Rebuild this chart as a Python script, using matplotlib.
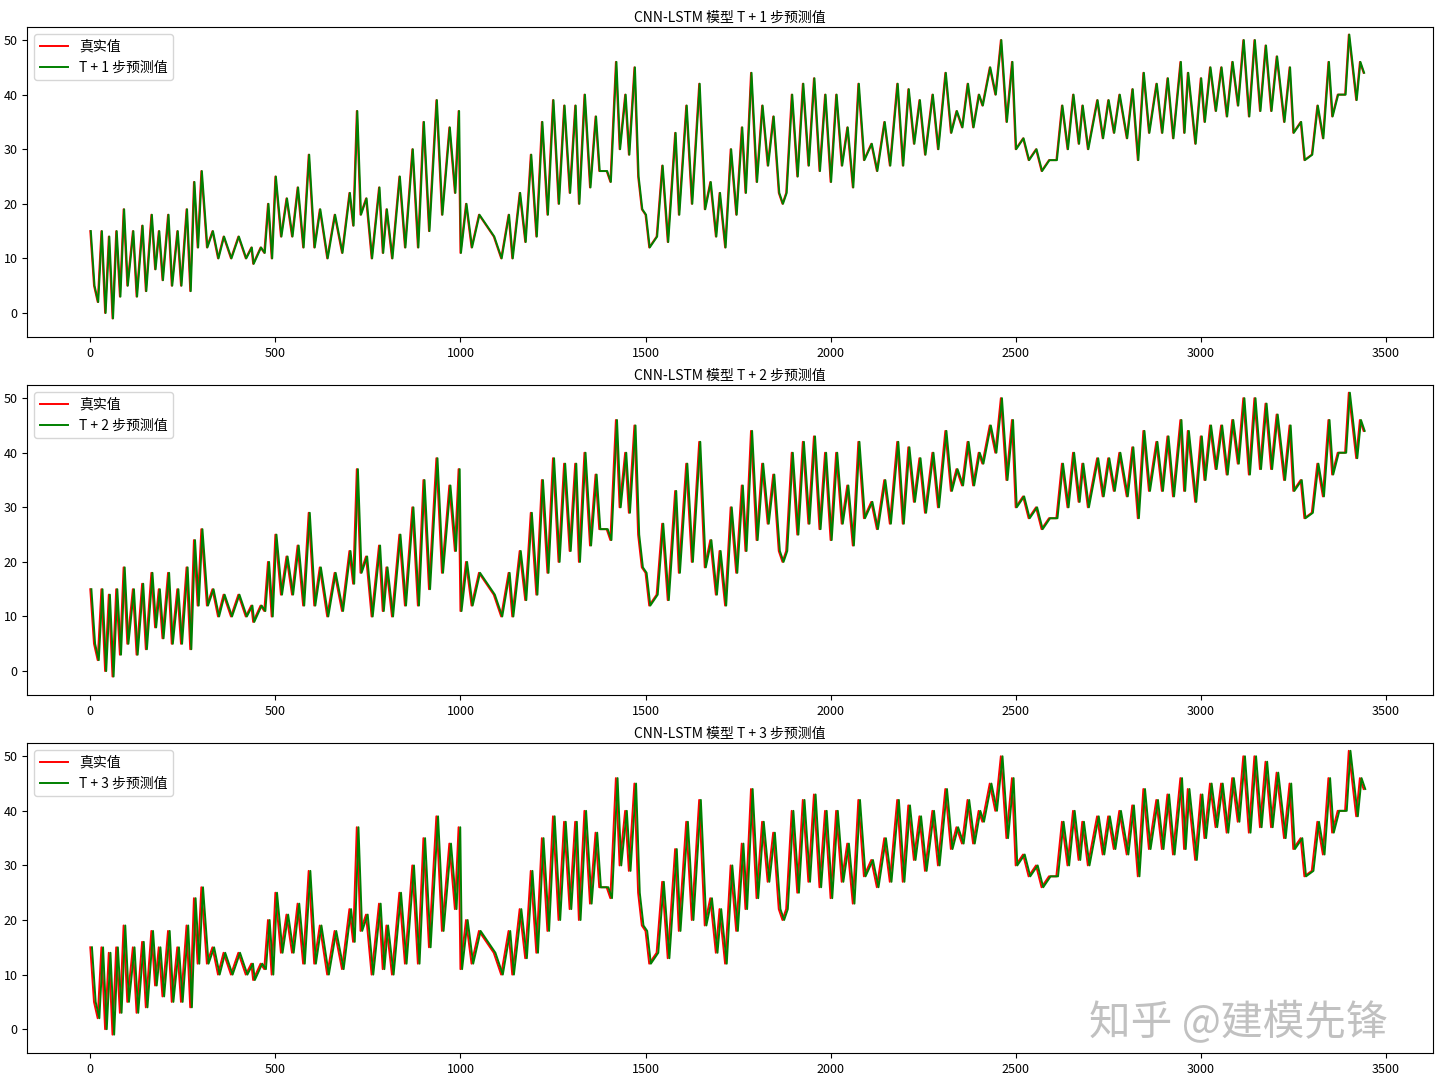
import matplotlib
matplotlib.use("Agg")
import matplotlib.pyplot as plt
from matplotlib import font_manager

cjk = None
for f in font_manager.fontManager.ttflist:
    if "CJK" in f.name:
        cjk = f.name
        if "SC" in f.name:
            break
if cjk is None:
    import glob
    for p in glob.glob("/usr/share/fonts/**/*CJK*", recursive=True):
        font_manager.fontManager.addfont(p)
    for f in font_manager.fontManager.ttflist:
        if "CJK" in f.name:
            cjk = f.name
            break
plt.rcParams["font.family"] = [cjk or "Noto Sans CJK SC", "DejaVu Sans"]
plt.rcParams["axes.unicode_minus"] = False

pts = [(0,15),(10,5),(20,2),(30,15),(40,0),(50,14),(60,-1),(70,15),(80,3),(90,19),(100,5),(115,15),(125,3),
(140,16),(150,4),(165,18),(175,8),(185,15),(195,6),(210,18),(220,5),(235,15),(245,5),(260,19),(270,4),(280,24),
(290,12),(300,26),(315,12),(330,15),(345,10),(360,14),(380,10),(400,14),(420,10),(435,12),(440,9),(460,12),(470,11),
(480,20),(490,10),(500,25),(515,14),(530,21),(545,14),(560,23),(575,12),(590,29),(605,12),(620,19),(640,10),(660,18),
(680,11),(700,22),(710,16),(720,37),(730,18),(745,21),(760,10),(780,23),(790,11),(800,19),(815,10),(835,25),(850,12),
(870,30),(885,12),(900,35),(915,15),(935,39),(950,18),(970,34),(985,22),(995,37),(1000,11),(1015,20),(1030,12),
(1050,18),(1070,16),(1090,14),(1110,10),(1130,18),(1140,10),(1160,22),(1175,13),(1190,29),(1205,14),(1220,35),
(1235,18),(1250,39),(1265,20),(1280,38),(1295,22),(1310,38),(1320,20),(1335,40),(1350,23),(1365,36),(1375,26),
(1395,26),(1405,24),(1420,46),(1430,30),(1445,40),(1455,29),(1470,45),(1480,25),(1490,19),(1500,18),(1510,12),
(1530,14),(1545,27),(1560,13),(1580,33),(1590,18),(1610,38),(1625,20),(1645,42),(1660,19),(1675,24),(1690,14),
(1700,22),(1715,12),(1730,30),(1745,18),(1760,34),(1770,22),(1785,44),(1800,24),(1815,38),(1830,27),(1845,36),
(1860,22),(1870,20),(1880,22),(1895,40),(1910,25),(1925,42),(1940,27),(1955,43),(1970,26),(1985,40),(2000,24),
(2015,40),(2030,27),(2045,34),(2060,23),(2075,42),(2090,28),(2110,31),(2125,26),(2145,35),(2160,27),(2180,42),
(2195,27),(2210,41),(2225,31),(2240,39),(2255,29),(2275,40),(2290,30),(2310,44),(2325,33),(2340,37),(2355,34),
(2370,42),(2385,34),(2400,40),(2410,38),(2430,45),(2445,40),(2460,50),(2475,35),(2490,46),(2500,30),(2520,32),
(2535,28),(2555,30),(2570,26),(2590,28),(2610,28),(2625,38),(2640,30),(2655,40),(2670,31),(2680,38),(2695,30),
(2720,39),(2735,32),(2750,39),(2765,33),(2780,40),(2800,32),(2815,41),(2830,28),(2845,44),(2860,33),(2880,42),
(2895,33),(2910,43),(2925,32),(2945,46),(2955,33),(2965,44),(2985,31),(3000,43),(3010,35),(3025,45),(3040,37),
(3055,45),(3070,36),(3085,46),(3100,38),(3115,50),(3130,36),(3145,50),(3160,37),(3175,49),(3190,37),(3205,47),
(3225,35),(3240,45),(3250,33),(3270,35),(3280,28),(3300,29),(3315,38),(3330,32),(3345,46),(3355,36),(3370,40),
(3390,40),(3400,51),(3410,45),(3420,39),(3430,46),(3440,44)]
x_idx = [p[0] for p in pts]
true_vals = [p[1] for p in pts]
steps = [1, 2, 3]
lags = [1.5, 3, 4.5]

fig, axes = plt.subplots(3, 1, figsize=(14.4, 10.78), dpi=100)
fig.subplots_adjust(left=0.019, right=0.995, top=0.975, bottom=0.023, hspace=0.155)
for ax, s, lag in zip(axes, steps, lags):
    ax.plot(x_idx, true_vals, color="red", lw=1.4, label="真实值")
    ax.plot([v + lag for v in x_idx], true_vals, color="green", lw=1.4, label=f"T + {s} 步预测值")
    ax.set_title(f"CNN-LSTM 模型 T + {s} 步预测值", fontsize=10, pad=4)
    ax.set_xlim(-170, 3627)
    ax.set_ylim(-4.4, 52.4)
    ax.set_xticks([0, 500, 1000, 1500, 2000, 2500, 3000, 3500])
    ax.set_yticks([0, 10, 20, 30, 40, 50])
    ax.tick_params(labelsize=9)
    ax.legend(loc="upper left", fontsize=10)
fig.text(0.86, 0.04, "知乎 @建模先锋", fontsize=30, color="#bbbbbb", ha="center", alpha=0.9)
fig.savefig("out.png")
